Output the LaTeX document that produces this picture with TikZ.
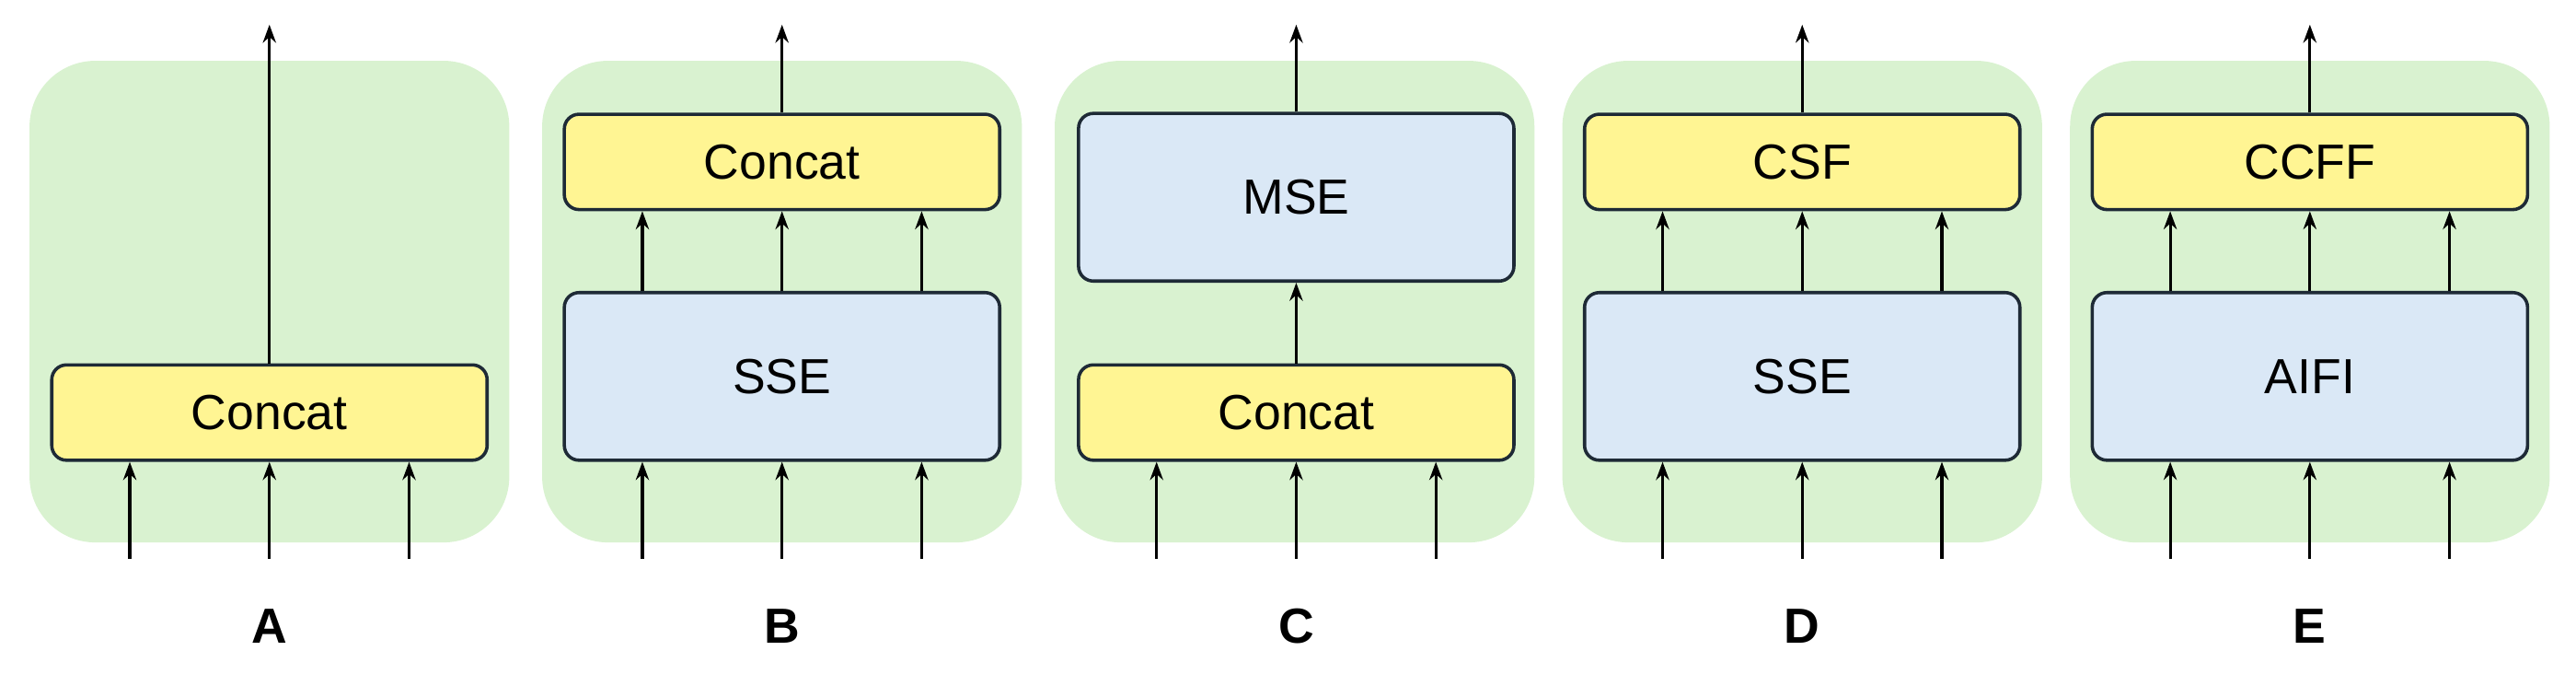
\documentclass[tikz,border=0pt]{standalone}
\usepackage{fontspec}
\setmainfont{Liberation Sans}
\usetikzlibrary{arrows.meta}
\definecolor{pgreen}{HTML}{D9F2D0}
\definecolor{pyellow}{HTML}{FFF593}
\definecolor{pblue}{HTML}{DAE8F6}
\definecolor{pedge}{HTML}{1E2A36}
\begin{document}
\begin{tikzpicture}[x=1pt,y=-1pt,
 panel/.style={fill=pgreen,draw=none,rounded corners=40pt},
 box/.style={draw=pedge,line width=2pt,rounded corners=9pt,minimum width=265pt,inner sep=0pt,font=\fontsize{30}{34}\selectfont},
 ybox/.style={box,fill=pyellow,minimum height=58pt},
 bbox/.style={box,fill=pblue,minimum height=102pt},
 arr/.style={-{Stealth[length=11pt,width=8pt]},line width=1.8pt,black},
 lab/.style={font=\fontsize{30}{34}\selectfont\bfseries}]
\useasboundingbox (0,0) rectangle (1568,410);
\foreach \p/\x in {pa/18,pb/330,pc/642,pd/951,pe/1260}{
  \fill[panel] (\x,37) rectangle ++(292,293);
}
% ---------- A
\node[ybox] (aC) at (164,251) {Concat};
\coordinate (aT) at (164,15);
\draw[arr] (aC.north) -- (aT);
\foreach \i/\dx in {1/-85,2/0,3/85}{
  \coordinate (aI\i) at (164+\dx,340);
  \draw[arr] (aI\i) -- (aI\i |- aC.south);
}
\node[lab] (la) at (164,381) {A};
% ---------- B
\node[ybox] (bC) at (476,98.5) {Concat};
\node[bbox] (bS) at (476,229) {SSE};
\coordinate (bT) at (476,15);
\draw[arr] (bC.north) -- (bT);
\foreach \i/\dx in {1/-85,2/0,3/85}{
  \coordinate (bI\i) at (476+\dx,340);
  \draw[arr] (bI\i) -- (bI\i |- bS.south);
  \coordinate (bM\i) at (476+\dx,178);
  \draw[arr] (bM\i |- bS.north) -- (bM\i |- bC.south);
}
\node[lab] (lb) at (476,381) {B};
% ---------- C
\node[bbox] (cM) at (789,120) {MSE};
\node[ybox] (cC) at (789,251) {Concat};
\coordinate (cT) at (789,15);
\draw[arr] (cM.north) -- (cT);
\draw[arr] (cC.north) -- (cM.south);
\foreach \i/\dx in {1/-85,2/0,3/85}{
  \coordinate (cI\i) at (789+\dx,340);
  \draw[arr] (cI\i) -- (cI\i |- cC.south);
}
\node[lab] (lc) at (789,381) {C};
% ---------- D
\node[ybox] (dC) at (1097,98.5) {CSF};
\node[bbox] (dS) at (1097,229) {SSE};
\coordinate (dT) at (1097,15);
\draw[arr] (dC.north) -- (dT);
\foreach \i/\dx in {1/-85,2/0,3/85}{
  \coordinate (dI\i) at (1097+\dx,340);
  \draw[arr] (dI\i) -- (dI\i |- dS.south);
  \coordinate (dM\i) at (1097+\dx,178);
  \draw[arr] (dM\i |- dS.north) -- (dM\i |- dC.south);
}
\node[lab] (ld) at (1097,381) {D};
% ---------- E
\node[ybox] (eC) at (1406,98.5) {CCFF};
\node[bbox] (eS) at (1406,229) {AIFI};
\coordinate (eT) at (1406,15);
\draw[arr] (eC.north) -- (eT);
\foreach \i/\dx in {1/-85,2/0,3/85}{
  \coordinate (eI\i) at (1406+\dx,340);
  \draw[arr] (eI\i) -- (eI\i |- eS.south);
  \coordinate (eM\i) at (1406+\dx,178);
  \draw[arr] (eM\i |- eS.north) -- (eM\i |- eC.south);
}
\node[lab] (le) at (1406,381) {E};
\end{tikzpicture}
\end{document}
